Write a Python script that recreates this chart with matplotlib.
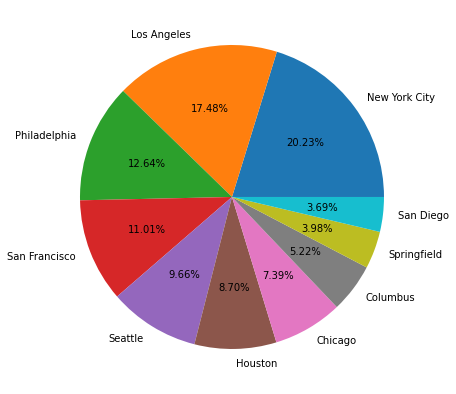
import matplotlib
matplotlib.use("Agg")
import matplotlib.pyplot as plt

# Данные
cities = ["New York City", "Los Angeles", "Philadelphia", "San Francisco", "Seattle",
          "Houston", "Chicago", "Columbus", "Springfield", "San Diego"]
shares = [20.23, 17.48, 12.64, 11.01, 9.66, 8.70, 7.39, 5.22, 3.98, 3.69]

fig = plt.figure(figsize=(456 / 72, 394 / 72), dpi=72)
ax = fig.add_axes([0.0921, 0.0178, 0.8333, 0.9645])
ax.pie(shares, labels=cities, autopct="%1.2f%%")

plt.savefig("out.png", dpi=72)
plt.close()
